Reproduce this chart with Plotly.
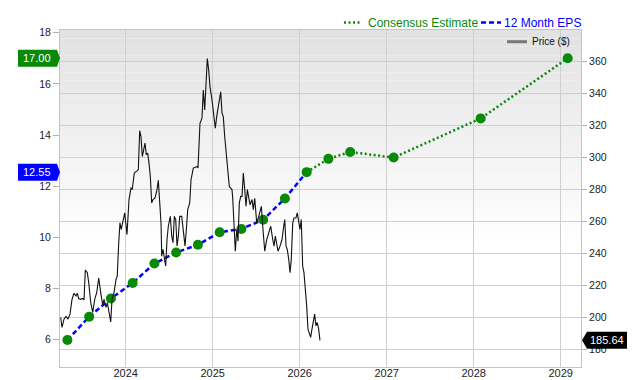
import plotly.graph_objects as go

# ---------------- data ----------------
# time expressed in decimal years
eps_year = [2023.33, 2023.58, 2023.83, 2024.08, 2024.33, 2024.58, 2024.83,
            2025.08, 2025.33, 2025.58, 2025.83, 2026.08]
eps_value = [5.99, 6.90, 7.61, 8.22, 8.98, 9.41, 9.71, 10.20, 10.33, 10.69, 11.52, 12.55]

est_year = [2026.08, 2026.33, 2026.58, 2027.08, 2028.08, 2029.08]
est_value = [12.55, 13.07, 13.34, 13.12, 14.65, 17.00]

price_year = [2023.253, 2023.268, 2023.291, 2023.314, 2023.337, 2023.360, 2023.383, 2023.406,
              2023.429, 2023.444, 2023.460, 2023.483, 2023.506, 2023.521, 2023.536, 2023.559,
              2023.575, 2023.598, 2023.621, 2023.644, 2023.667, 2023.690, 2023.713, 2023.736,
              2023.751, 2023.774, 2023.789, 2023.811, 2023.828, 2023.843, 2023.866, 2023.889,
              2023.903, 2023.920, 2023.934, 2023.949, 2023.966, 2023.989, 2024.015, 2024.038,
              2024.061, 2024.076, 2024.099, 2024.122, 2024.145, 2024.161, 2024.176, 2024.191,
              2024.207, 2024.222, 2024.237, 2024.253, 2024.268, 2024.283, 2024.299, 2024.314,
              2024.337, 2024.360, 2024.375, 2024.391, 2024.406, 2024.414, 2024.429, 2024.444,
              2024.460, 2024.475, 2024.490, 2024.513, 2024.529, 2024.544, 2024.559, 2024.575,
              2024.590, 2024.605, 2024.621, 2024.644, 2024.667, 2024.682, 2024.697, 2024.713,
              2024.736, 2024.751, 2024.777, 2024.823, 2024.831, 2024.854, 2024.877, 2024.892,
              2024.908, 2024.923, 2024.938, 2024.954, 2024.969, 2024.992, 2025.015, 2025.030,
              2025.046, 2025.069, 2025.092, 2025.107, 2025.122, 2025.138, 2025.161, 2025.176,
              2025.191, 2025.207, 2025.222, 2025.230, 2025.245, 2025.260, 2025.276, 2025.291,
              2025.306, 2025.322, 2025.337, 2025.352, 2025.368, 2025.383, 2025.398, 2025.414,
              2025.429, 2025.452, 2025.467, 2025.483, 2025.506, 2025.529, 2025.544, 2025.559,
              2025.575, 2025.598, 2025.621, 2025.644, 2025.667, 2025.690, 2025.705, 2025.720,
              2025.736, 2025.751, 2025.774, 2025.797, 2025.811, 2025.828, 2025.843, 2025.857,
              2025.874, 2025.889, 2025.903, 2025.920, 2025.934, 2025.957, 2025.972, 2025.989,
              2026.003, 2026.018, 2026.034, 2026.049, 2026.064, 2026.080, 2026.095, 2026.110,
              2026.126, 2026.141, 2026.156, 2026.172, 2026.187, 2026.202, 2026.218, 2026.233]
price_value = [199.9, 193.7, 198.9, 200.6, 198.9, 202.0, 211.3, 215.1,
               213.4, 215.1, 211.8, 211.3, 211.8, 210.9, 229.6, 228.0,
               221.7, 209.3, 203.1, 211.3, 215.5, 224.6, 215.5, 207.6,
               211.3, 206.2, 209.3, 203.1, 197.2, 211.3, 215.5, 223.8,
               225.9, 246.7, 259.1, 255.0, 260.1, 265.4, 251.8, 273.7,
               280.9, 280.3, 290.3, 291.3, 292.3, 316.8, 313.1, 300.6,
               304.8, 309.0, 301.7, 302.8, 296.5, 288.2, 271.6, 273.7,
               274.7, 279.9, 285.7, 273.7, 259.1, 238.3, 242.5, 237.3,
               232.1, 248.7, 257.0, 263.2, 250.8, 246.7, 263.2, 261.2,
               244.6, 250.8, 263.2, 263.2, 250.8, 244.6, 255.0, 267.4,
               271.6, 286.1, 293.4, 294.4, 293.4, 321.4, 324.6, 342.2,
               329.7, 350.5, 361.9, 354.7, 344.2, 336.0, 325.6, 318.3,
               325.6, 333.9, 341.1, 327.7, 325.6, 313.1, 300.6, 290.3,
               281.9, 280.9, 279.9, 274.7, 259.1, 241.4, 255.0, 247.7,
               271.6, 275.7, 275.7, 290.3, 279.9, 269.5, 279.9, 274.7,
               270.5, 273.7, 267.4, 274.5, 259.1, 263.2, 267.4, 269.5,
               257.0, 241.4, 248.7, 252.9, 257.0, 248.7, 244.6, 250.8,
               244.6, 241.4, 244.6, 248.7, 255.0, 261.2, 244.6, 242.5,
               236.3, 228.0, 236.3, 259.1, 262.2, 262.2, 265.4, 259.1,
               255.0, 261.2, 232.1, 228.0, 219.6, 207.2, 192.6, 190.6,
               187.5, 192.6, 196.8, 202.0, 194.7, 196.8, 192.6, 185.64]

year_ticks = [2024, 2025, 2026, 2027, 2028, 2029]
eps_ticks = [6, 8, 10, 12, 14, 16, 18]
price_ticks = [180, 200, 220, 240, 260, 280, 300, 320, 340, 360]

last_price = price_value[-1]
last_eps = eps_value[-1]
last_est = est_value[-1]

# ---------------- style ----------------
FONT = "Liberation Sans, Arial, Helvetica, sans-serif"
GREEN = "#078a07"
BLUE = "#0000ff"
GRID = "#cfcfcf"

fig = go.Figure()

fig.add_trace(go.Scatter(x=price_year, y=price_value, yaxis="y2", mode="lines",
                         line=dict(color="#111111", width=1.1), showlegend=False,
                         name="Price ($)"))
fig.add_trace(go.Scatter(x=eps_year, y=eps_value, mode="lines",
                         line=dict(color=BLUE, width=2.5, dash="5px,3px"),
                         showlegend=False, name="12 Month EPS"))
fig.add_trace(go.Scatter(x=est_year, y=est_value, mode="lines",
                         line=dict(color=GREEN, width=2.5, dash="2px,2.5px"),
                         showlegend=False, name="Consensus Estimate"))
fig.add_trace(go.Scatter(x=eps_year + est_year[1:], y=eps_value + est_value[1:], mode="markers",
                         marker=dict(color=GREEN, size=10, line=dict(width=0)),
                         showlegend=False))

shapes = []
# background gradient (top grey -> white)
n = 40
for i in range(n):
    t0 = i / n
    frac = min(1.0, t0 / 0.62)
    c = int(round(0xe2 + (0xff - 0xe2) * frac))
    shapes.append(dict(type="rect", xref="paper", yref="paper", x0=0, x1=1,
                       y0=1 - (i + 1) / n, y1=1 - i / n, layer="below",
                       line=dict(width=0), fillcolor=f"rgb({c},{c},{c})"))

# value tags
shapes.append(dict(type="path", xref="paper", yref="y", xsizemode="pixel", ysizemode="pixel",
                   xanchor=0, yanchor=last_est,
                   path="M-42,-8.5 L-3,-8.5 L0,0 L-3,8.5 L-42,8.5 Z",
                   fillcolor=GREEN, line=dict(width=0)))
shapes.append(dict(type="path", xref="paper", yref="y", xsizemode="pixel", ysizemode="pixel",
                   xanchor=0, yanchor=last_eps,
                   path="M-42,-8.5 L-3,-8.5 L0,0 L-3,8.5 L-42,8.5 Z",
                   fillcolor=BLUE, line=dict(width=0)))
shapes.append(dict(type="path", xref="paper", yref="y2", xsizemode="pixel", ysizemode="pixel",
                   xanchor=1, yanchor=last_price,
                   path="M1,0 L6,-8.5 L46,-8.5 L46,8.5 L6,8.5 Z",
                   fillcolor="#000000", line=dict(width=0)))

# legend samples
shapes.append(dict(type="line", xref="paper", yref="paper", xsizemode="pixel", ysizemode="pixel",
                   xanchor=1, yanchor=1, x0=-237, x1=-219, y0=7.5, y1=7.5,
                   line=dict(color=GREEN, width=2.5, dash="2px,2.5px")))
shapes.append(dict(type="line", xref="paper", yref="paper", xsizemode="pixel", ysizemode="pixel",
                   xanchor=1, yanchor=1, x0=-100, x1=-80, y0=7.5, y1=7.5,
                   line=dict(color=BLUE, width=2.5, dash="5px,3px")))
shapes.append(dict(type="line", xref="paper", yref="paper", xsizemode="pixel", ysizemode="pixel",
                   xanchor=1, yanchor=1, x0=-74, x1=-54, y0=-11.7, y1=-11.7,
                   line=dict(color="#777777", width=3)))

annotations = [
    dict(text=f"{last_est:.2f}", xref="paper", yref="y", x=0, y=last_est, xanchor="center",
         xshift=-23, showarrow=False, font=dict(color="white", size=11, family=FONT)),
    dict(text=f"{last_eps:.2f}", xref="paper", yref="y", x=0, y=last_eps, xanchor="center",
         xshift=-23, showarrow=False, font=dict(color="white", size=11, family=FONT)),
    dict(text=f"{last_price:.2f}", xref="paper", yref="y2", x=1, y=last_price, xanchor="center",
         xshift=26, showarrow=False, font=dict(color="white", size=11, family=FONT)),
    dict(text="Consensus Estimate", xref="paper", yref="paper", x=1, y=1, xanchor="left",
         yanchor="middle", xshift=-215, yshift=7.5, showarrow=False,
         font=dict(color=GREEN, size=12, family=FONT)),
    dict(text="12 Month EPS", xref="paper", yref="paper", x=1, y=1, xanchor="left",
         yanchor="middle", xshift=-79, yshift=7.5, showarrow=False,
         font=dict(color=BLUE, size=12, family=FONT)),
    dict(text="Price ($)", xref="paper", yref="paper", x=1, y=1, xanchor="left",
         yanchor="middle", xshift=-51, yshift=-11.7, showarrow=False,
         font=dict(color="#111111", size=10, family=FONT)),
]

fig.update_layout(
    width=640, height=380,
    margin=dict(l=60, r=59, t=30, b=13),
    paper_bgcolor="white", plot_bgcolor="rgba(0,0,0,0)",
    font=dict(family=FONT, size=11, color="#222222"),
    showlegend=False,
    shapes=shapes, annotations=annotations,
    xaxis=dict(range=[2023.245, 2029.233], tickvals=year_ticks,
               ticktext=[str(v) for v in year_ticks], automargin=False,
               showgrid=True, gridcolor=GRID, gridwidth=1, zeroline=False,
               showline=True, linecolor="#c4c4c4", mirror=True, ticks="",
               ticklabelstandoff=-4, tickfont=dict(size=11)),
    yaxis=dict(range=[4.936, 18.105], tickvals=eps_ticks, showgrid=False, zeroline=False,
               automargin=False,
               showline=True, linecolor="#c4c4c4", ticks="outside", ticklen=6,
               tickcolor="#b0b0b0", tickfont=dict(size=10.5)),
    yaxis2=dict(range=[168.96, 379.77], tickvals=price_ticks, overlaying="y", side="right",
                automargin=False,
                showgrid=True, gridcolor=GRID, gridwidth=1, zeroline=False,
                showline=True, linecolor="#c4c4c4", ticks="outside", ticklen=5,
                tickcolor="#b0b0b0", tickfont=dict(size=10.5)),
)

fig.write_html("out.html")
